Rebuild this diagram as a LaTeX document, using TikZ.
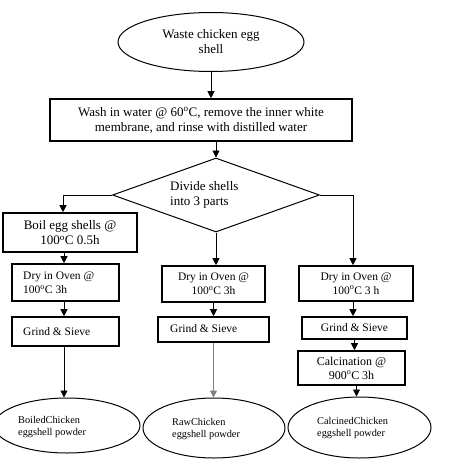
\documentclass[tikz,border=0pt]{standalone}
\usepackage{fontspec}
\setmainfont{Liberation Serif}
\usetikzlibrary{shapes.geometric,arrows.meta}
\tikzset{
 box/.style={draw, line width=1.6pt, inner sep=0pt, align=center},
 oval/.style={draw, ellipse, line width=1pt, inner sep=0pt},
 dia/.style={draw, diamond, line width=1pt, inner sep=0pt, aspect=2.8},
 conn/.style={line width=0.9pt, -{Triangle[length=7pt,width=7pt]}},
 lbl/.style={anchor=west, align=left, inner sep=0pt},
 big/.style={font=\fontsize{13}{15}\selectfont},
 mid/.style={font=\fontsize{11.5}{14}\selectfont},
 calc/.style={font=\fontsize{12}{14}\selectfont},
 small/.style={font=\fontsize{10.3}{12}\selectfont},
}
\newcommand{\dg}{\textsuperscript{o}}
\begin{document}
\begin{tikzpicture}[x=1pt,y=-1pt]
\useasboundingbox (0,0) rectangle (474,474);
% top
\node[oval, big, align=center, minimum width=186pt, minimum height=59pt] (top) at (211,42) {Waste chicken egg\\shell};
\node[box, big, minimum width=302pt, minimum height=42pt] (wash) at (201,120) {Wash in water @ 60\dg C, remove the inner white\\membrane, and rinse with distilled water};
\node[dia, minimum width=207pt, minimum height=74pt] (div) at (216,195) {};
\node[lbl, big] (divt) at (170,195) {Divide shells\\into 3 parts};
% left branch
\node[box, big, minimum width=134pt, minimum height=39pt] (boil) at (70,232.5) {Boil egg shells @\\100\dg C 0.5h};
\node[box, minimum width=107pt, minimum height=37pt] (dry1) at (65.5,282.5) {};
\node[lbl, mid] (dry1t) at (23,283) {Dry in Oven @\\100\dg C 3h};
\node[box, minimum width=107pt, minimum height=29pt] (grind1) at (65.5,331.5) {};
\node[lbl, mid] (grind1t) at (23,332) {Grind \& Sieve};
\node[oval, minimum width=146pt, minimum height=55pt] (boiled) at (67,425.5) {};
\node[lbl, small] (boiledt) at (18,427) {BoiledChicken\\eggshell powder};
% middle branch
\node[box, mid, minimum width=103pt, minimum height=36pt] (dry2) at (213.5,284) {Dry in Oven @\\100\dg C 3h};
\node[box, minimum width=111pt, minimum height=25pt] (grind2) at (213.5,329.5) {};
\node[lbl, mid] (grind2t) at (170,329) {Grind \& Sieve};
\node[oval, minimum width=142pt, minimum height=60pt] (raw) at (214,428) {};
\node[lbl, small] (rawt) at (172,429) {RawChicken\\eggshell powder};
% right branch
\node[box, mid, minimum width=114pt, minimum height=35pt] (dry3) at (356,283.5) {Dry in Oven @\\100\dg C 3 h};
\node[box, mid, minimum width=105pt, minimum height=22pt] (grind3) at (354.5,328) {Grind \& Sieve};
\node[box, calc, minimum width=107pt, minimum height=34pt] (calc) at (351.5,368) {Calcination @\\900\dg C 3h};
\node[oval, minimum width=143pt, minimum height=61pt] (calcined) at (359.5,427.5) {};
\node[lbl, small] (calcinedt) at (317,428) {CalcinedChicken\\eggshell powder};
% connectors
\draw[conn] (top.south) -- (top.south |- wash.north);
\draw[conn] (div.north |- wash.south) -- (div.north);
\draw[conn] (div.west) -| ([xshift=-7pt]boil.north);
\draw[conn] ([xshift=-1.5pt]dry1.north |- boil.south) -- ([xshift=-1.5pt]dry1.north);
\draw[conn] ([xshift=-1.5pt]grind1.north |- dry1.south) -- ([xshift=-1.5pt]grind1.north);
\draw[conn] ([xshift=-1.5pt]grind1.south) -- ([xshift=-1.5pt]grind1.south |- boiled.north);
\draw[conn] (div.south) -- (div.south |- dry2.north);
\draw[conn] (grind2.north |- dry2.south) -- (grind2.north);
\draw[conn, draw=gray] (grind2.south) -- (grind2.south |- raw.north);
\draw[conn] (div.east) -| ([xshift=-3pt]dry3.north);
\draw[conn] ([xshift=-3pt]dry3.south) -- ([xshift=-3pt]dry3.south |- grind3.north);
\draw[conn] (grind3.south) -- (grind3.south |- calc.north);
\draw[conn] ([xshift=5pt]calc.south) -- ([xshift=5pt]calc.south |- calcined.north);
\end{tikzpicture}
\end{document}
